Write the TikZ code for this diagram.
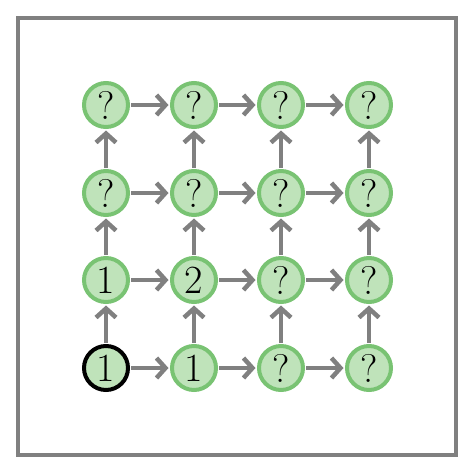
\documentclass[tikz,border=0pt]{standalone}
\usetikzlibrary{arrows.meta}
\definecolor{gfill}{HTML}{BFE3BA}
\definecolor{gline}{HTML}{79C373}
\definecolor{agray}{HTML}{808080}
\tikzset{
  cell/.style={circle, draw=gline, fill=gfill, line width=4pt, minimum size=44pt, inner sep=0pt,
    font=\fontsize{40}{44}\selectfont},
  startcell/.style={cell, draw=black},
  conn/.style={draw=agray, line width=4.5pt, -{Straight Barb[length=9pt,width=20pt]}, shorten >=1.5pt, shorten <=1pt},
}
\begin{document}
\begin{tikzpicture}[x=1pt,y=-1pt]
\useasboundingbox (0,0) rectangle (474,474);
\draw[agray, line width=4pt] (18,18) rectangle (456,455);
% rows: 1 bottom ... 4 top
\def\xa{106}\def\xb{194}\def\xc{281}\def\xd{369}
\def\ya{368}\def\yb{280}\def\yc{193}\def\yd{105}
\node[startcell] (n11) at (\xa,\ya) {1};
\node[cell] (n21) at (\xb,\ya) {1};
\node[cell] (n31) at (\xc,\ya) {?};
\node[cell] (n41) at (\xd,\ya) {?};
\node[cell] (n12) at (\xa,\yb) {1};
\node[cell] (n22) at (\xb,\yb) {2};
\node[cell] (n32) at (\xc,\yb) {?};
\node[cell] (n42) at (\xd,\yb) {?};
\node[cell] (n13) at (\xa,\yc) {?};
\node[cell] (n23) at (\xb,\yc) {?};
\node[cell] (n33) at (\xc,\yc) {?};
\node[cell] (n43) at (\xd,\yc) {?};
\node[cell] (n14) at (\xa,\yd) {?};
\node[cell] (n24) at (\xb,\yd) {?};
\node[cell] (n34) at (\xc,\yd) {?};
\node[cell] (n44) at (\xd,\yd) {?};
\foreach \r in {1,2,3,4}{
  \draw[conn] (n1\r) -- (n2\r);
  \draw[conn] (n2\r) -- (n3\r);
  \draw[conn] (n3\r) -- (n4\r);
}
\foreach \c in {1,2,3,4}{
  \draw[conn] (n\c1) -- (n\c2);
  \draw[conn] (n\c2) -- (n\c3);
  \draw[conn] (n\c3) -- (n\c4);
}
\end{tikzpicture}
\end{document}
